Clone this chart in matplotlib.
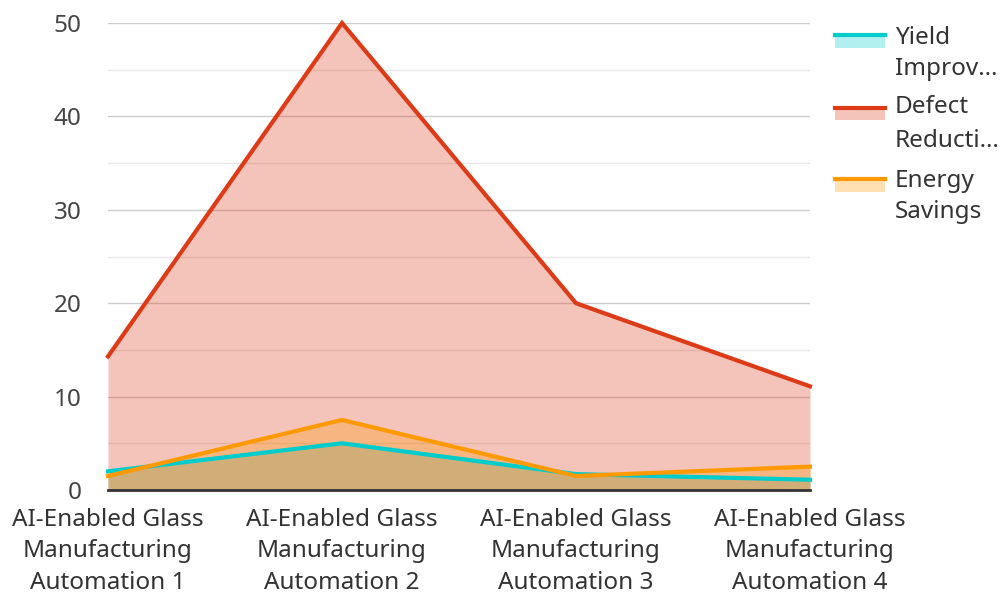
import matplotlib
matplotlib.use("Agg")
import matplotlib.pyplot as plt
from matplotlib.lines import Line2D
from matplotlib.patches import Rectangle
import numpy as np

plt.rcParams['font.family'] = ['Noto Sans', 'DejaVu Sans']

categories = ["AI-Enabled Glass\nManufacturing\nAutomation 1",
              "AI-Enabled Glass\nManufacturing\nAutomation 2",
              "AI-Enabled Glass\nManufacturing\nAutomation 3",
              "AI-Enabled Glass\nManufacturing\nAutomation 4"]
yield_improvement = [2.0, 5.0, 1.7, 1.1]
defect_reduction = [14.3, 50.0, 20.0, 11.1]
energy_savings = [1.5, 7.5, 1.5, 2.5]
series_labels = [["Yield", "Improv…"], ["Defect", "Reducti…"], ["Energy", "Savings"]]
colors = ["#00cccc", "#dd3a17", "#ff9900"]
yticks = [0, 10, 20, 30, 40, 50]

FS = 17.5
W, H = 1002, 594
fig = plt.figure(figsize=(W/100, H/100), dpi=100)
ax = fig.add_axes([108/W, 1 - 490/H, (810-108)/W, (490-23)/H])

x = np.arange(len(categories))
series = [yield_improvement, defect_reduction, energy_savings]
for vals, c in zip(series, colors):
    ax.fill_between(x, 0, vals, color=c, alpha=0.3, linewidth=0, zorder=2)
for vals, c in zip(series, colors):
    ax.plot(x, vals, color=c, linewidth=3, zorder=3, clip_on=False, solid_joinstyle='miter')

ax.set_xlim(0, 3)
ax.set_ylim(0, 50)
ax.set_yticks(yticks)
ax.set_yticks([5, 15, 25, 35, 45], minor=True)
ax.set_xticks(x)
ax.set_xticklabels(categories, fontsize=FS, color="#333333", linespacing=1.41)
ax.tick_params(axis='y', labelsize=FS, labelcolor="#444444", length=0, pad=19)
ax.tick_params(axis='y', which='minor', length=0)
ax.tick_params(axis='x', length=0, pad=13)
ax.grid(axis='y', which='major', color="#cccccc", linewidth=1, zorder=1)
ax.grid(axis='y', which='minor', color="#e8e8e8", linewidth=1, zorder=1)
for s in ['top', 'right', 'left']:
    ax.spines[s].set_visible(False)
ax.spines['bottom'].set_color("#333333")
ax.spines['bottom'].set_linewidth(2)
ax.spines['bottom'].set_zorder(4)

# manual legend (pixel coordinates from top-left)
def px(xp, yp):
    return xp / W, 1 - yp / H

line_y = [35, 107.5, 179.5]
baselines = [(44, 75), (113, 147), (187, 218)]
for c, ly, (b1, b2), lab in zip(colors, line_y, baselines, series_labels):
    x0, y0 = px(835, ly + 12.5)
    fig.patches.append(Rectangle((x0, y0), 50 / W, 12 / H, transform=fig.transFigure,
                                 facecolor=c, alpha=0.3, linewidth=0))
    xa, ya = px(835, ly)
    xb, _ = px(885, ly)
    fig.lines.append(Line2D([xa, xb], [ya, ya], transform=fig.transFigure, color=c, linewidth=3))
    for b, t in zip((b1, b2), lab):
        tx, ty = px(895, b)
        fig.text(tx, ty, t, fontsize=FS, color="#333333", va='baseline', ha='left')

fig.savefig("out.png", dpi=100)
